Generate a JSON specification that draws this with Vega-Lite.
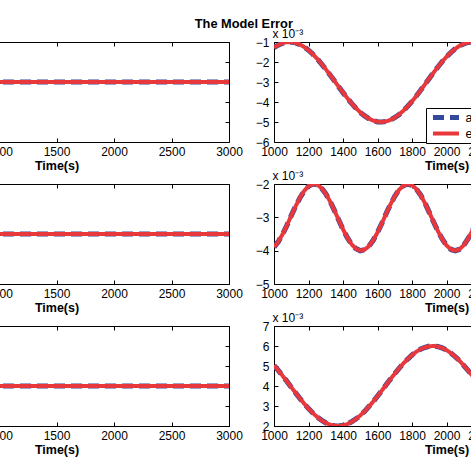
{
  "$schema": "https://vega.github.io/schema/vega-lite/v6.json",
  "background": "white",
  "padding": {"left": -146, "top": 17, "right": -162, "bottom": 14},
  "title": {"text": "The Model Error", "anchor": "middle", "font": "Liberation Sans", "fontSize": 12.8, "fontWeight": "bold", "color": "black", "offset": -4},
  "data": {"name": "errors"},
  "datasets": {
    "errors": [
      {"panel": "L1", "time": 0, "actual": 0, "estimated": 0},
      {"panel": "L1", "time": 3000, "actual": 0, "estimated": 0},
      {"panel": "L2", "time": 0, "actual": 0, "estimated": 0},
      {"panel": "L2", "time": 3000, "actual": 0, "estimated": 0},
      {"panel": "L3", "time": 0, "actual": 0, "estimated": 0},
      {"panel": "L3", "time": 3000, "actual": 0, "estimated": 0},
      {"panel": "R1", "time": 1000, "actual": -1.28, "estimated": -1.278},
      {"panel": "R1", "time": 1025, "actual": -1.15, "estimated": -1.147},
      {"panel": "R1", "time": 1050, "actual": -1.06, "estimated": -1.056},
      {"panel": "R1", "time": 1075, "actual": -1.01, "estimated": -1.008},
      {"panel": "R1", "time": 1100, "actual": -1.00, "estimated": -1.004},
      {"panel": "R1", "time": 1125, "actual": -1.04, "estimated": -1.043},
      {"panel": "R1", "time": 1150, "actual": -1.13, "estimated": -1.125},
      {"panel": "R1", "time": 1175, "actual": -1.25, "estimated": -1.249},
      {"panel": "R1", "time": 1200, "actual": -1.41, "estimated": -1.411},
      {"panel": "R1", "time": 1225, "actual": -1.61, "estimated": -1.607},
      {"panel": "R1", "time": 1250, "actual": -1.83, "estimated": -1.834},
      {"panel": "R1", "time": 1275, "actual": -2.09, "estimated": -2.087},
      {"panel": "R1", "time": 1300, "actual": -2.36, "estimated": -2.359},
      {"panel": "R1", "time": 1325, "actual": -2.65, "estimated": -2.646},
      {"panel": "R1", "time": 1350, "actual": -2.94, "estimated": -2.941},
      {"panel": "R1", "time": 1375, "actual": -3.24, "estimated": -3.236},
      {"panel": "R1", "time": 1400, "actual": -3.53, "estimated": -3.527},
      {"panel": "R1", "time": 1425, "actual": -3.81, "estimated": -3.806},
      {"panel": "R1", "time": 1450, "actual": -4.07, "estimated": -4.067},
      {"panel": "R1", "time": 1475, "actual": -4.31, "estimated": -4.305},
      {"panel": "R1", "time": 1500, "actual": -4.52, "estimated": -4.515},
      {"panel": "R1", "time": 1525, "actual": -4.69, "estimated": -4.691},
      {"panel": "R1", "time": 1550, "actual": -4.83, "estimated": -4.830},
      {"panel": "R1", "time": 1575, "actual": -4.93, "estimated": -4.929},
      {"panel": "R1", "time": 1600, "actual": -4.99, "estimated": -4.986},
      {"panel": "R1", "time": 1625, "actual": -5.00, "estimated": -4.999},
      {"panel": "R1", "time": 1650, "actual": -4.97, "estimated": -4.968},
      {"panel": "R1", "time": 1675, "actual": -4.90, "estimated": -4.895},
      {"panel": "R1", "time": 1700, "actual": -4.78, "estimated": -4.779},
      {"panel": "R1", "time": 1725, "actual": -4.63, "estimated": -4.625},
      {"panel": "R1", "time": 1750, "actual": -4.44, "estimated": -4.435},
      {"panel": "R1", "time": 1775, "actual": -4.21, "estimated": -4.213},
      {"panel": "R1", "time": 1800, "actual": -3.97, "estimated": -3.966},
      {"panel": "R1", "time": 1825, "actual": -3.70, "estimated": -3.697},
      {"panel": "R1", "time": 1850, "actual": -3.41, "estimated": -3.412},
      {"panel": "R1", "time": 1875, "actual": -3.12, "estimated": -3.119},
      {"panel": "R1", "time": 1900, "actual": -2.82, "estimated": -2.823},
      {"panel": "R1", "time": 1925, "actual": -2.53, "estimated": -2.530},
      {"panel": "R1", "time": 1950, "actual": -2.25, "estimated": -2.248},
      {"panel": "R1", "time": 1975, "actual": -1.98, "estimated": -1.983},
      {"panel": "R1", "time": 2000, "actual": -1.74, "estimated": -1.740},
      {"panel": "R1", "time": 2025, "actual": -1.53, "estimated": -1.525},
      {"panel": "R1", "time": 2050, "actual": -1.34, "estimated": -1.341},
      {"panel": "R1", "time": 2075, "actual": -1.19, "estimated": -1.194},
      {"panel": "R1", "time": 2100, "actual": -1.09, "estimated": -1.087},
      {"panel": "R1", "time": 2125, "actual": -1.02, "estimated": -1.022},
      {"panel": "R1", "time": 2150, "actual": -1.00, "estimated": -1.000},
      {"panel": "R1", "time": 2175, "actual": -1.02, "estimated": -1.022},
      {"panel": "R1", "time": 2200, "actual": -1.09, "estimated": -1.087},
      {"panel": "R1", "time": 2250, "actual": -1.34, "estimated": -1.341},
      {"panel": "R1", "time": 2300, "actual": -1.74, "estimated": -1.740},
      {"panel": "R1", "time": 2350, "actual": -2.25, "estimated": -2.248},
      {"panel": "R1", "time": 2400, "actual": -2.82, "estimated": -2.823},
      {"panel": "R1", "time": 2450, "actual": -3.41, "estimated": -3.412},
      {"panel": "R1", "time": 2500, "actual": -3.97, "estimated": -3.966},
      {"panel": "R1", "time": 2550, "actual": -4.44, "estimated": -4.435},
      {"panel": "R1", "time": 2600, "actual": -4.78, "estimated": -4.779},
      {"panel": "R1", "time": 2650, "actual": -4.97, "estimated": -4.968},
      {"panel": "R1", "time": 2700, "actual": -4.99, "estimated": -4.986},
      {"panel": "R1", "time": 2750, "actual": -4.83, "estimated": -4.830},
      {"panel": "R1", "time": 2800, "actual": -4.52, "estimated": -4.515},
      {"panel": "R1", "time": 2850, "actual": -4.07, "estimated": -4.067},
      {"panel": "R1", "time": 2900, "actual": -3.53, "estimated": -3.527},
      {"panel": "R1", "time": 2950, "actual": -2.94, "estimated": -2.941},
      {"panel": "R1", "time": 3000, "actual": -2.36, "estimated": -2.359},
      {"panel": "R2", "time": 1000, "actual": -3.89, "estimated": -3.893},
      {"panel": "R2", "time": 1025, "actual": -3.73, "estimated": -3.728},
      {"panel": "R2", "time": 1050, "actual": -3.50, "estimated": -3.503},
      {"panel": "R2", "time": 1075, "actual": -3.24, "estimated": -3.237},
      {"panel": "R2", "time": 1100, "actual": -2.95, "estimated": -2.951},
      {"panel": "R2", "time": 1125, "actual": -2.67, "estimated": -2.669},
      {"panel": "R2", "time": 1150, "actual": -2.42, "estimated": -2.415},
      {"panel": "R2", "time": 1175, "actual": -2.21, "estimated": -2.208},
      {"panel": "R2", "time": 1200, "actual": -2.07, "estimated": -2.067},
      {"panel": "R2", "time": 1225, "actual": -2.00, "estimated": -2.003},
      {"panel": "R2", "time": 1250, "actual": -2.02, "estimated": -2.021},
      {"panel": "R2", "time": 1275, "actual": -2.12, "estimated": -2.120},
      {"panel": "R2", "time": 1300, "actual": -2.29, "estimated": -2.292},
      {"panel": "R2", "time": 1325, "actual": -2.52, "estimated": -2.522},
      {"panel": "R2", "time": 1350, "actual": -2.79, "estimated": -2.791},
      {"panel": "R2", "time": 1375, "actual": -3.08, "estimated": -3.078},
      {"panel": "R2", "time": 1400, "actual": -3.36, "estimated": -3.358},
      {"panel": "R2", "time": 1425, "actual": -3.61, "estimated": -3.609},
      {"panel": "R2", "time": 1450, "actual": -3.81, "estimated": -3.809},
      {"panel": "R2", "time": 1475, "actual": -3.94, "estimated": -3.943},
      {"panel": "R2", "time": 1500, "actual": -4.00, "estimated": -3.999},
      {"panel": "R2", "time": 1525, "actual": -3.97, "estimated": -3.972},
      {"panel": "R2", "time": 1550, "actual": -3.87, "estimated": -3.866},
      {"panel": "R2", "time": 1575, "actual": -3.69, "estimated": -3.688},
      {"panel": "R2", "time": 1600, "actual": -3.45, "estimated": -3.453},
      {"panel": "R2", "time": 1625, "actual": -3.18, "estimated": -3.181},
      {"panel": "R2", "time": 1650, "actual": -2.89, "estimated": -2.894},
      {"panel": "R2", "time": 1675, "actual": -2.62, "estimated": -2.615},
      {"panel": "R2", "time": 1700, "actual": -2.37, "estimated": -2.369},
      {"panel": "R2", "time": 1725, "actual": -2.17, "estimated": -2.174},
      {"panel": "R2", "time": 1750, "actual": -2.05, "estimated": -2.048},
      {"panel": "R2", "time": 1775, "actual": -2.00, "estimated": -2.000},
      {"panel": "R2", "time": 1800, "actual": -2.04, "estimated": -2.035},
      {"panel": "R2", "time": 1825, "actual": -2.15, "estimated": -2.149},
      {"panel": "R2", "time": 1850, "actual": -2.33, "estimated": -2.334},
      {"panel": "R2", "time": 1875, "actual": -2.57, "estimated": -2.573},
      {"panel": "R2", "time": 1900, "actual": -2.85, "estimated": -2.848},
      {"panel": "R2", "time": 1925, "actual": -3.14, "estimated": -3.135},
      {"panel": "R2", "time": 1950, "actual": -3.41, "estimated": -3.411},
      {"panel": "R2", "time": 1975, "actual": -3.65, "estimated": -3.653},
      {"panel": "R2", "time": 2000, "actual": -3.84, "estimated": -3.842},
      {"panel": "R2", "time": 2025, "actual": -3.96, "estimated": -3.960},
      {"panel": "R2", "time": 2050, "actual": -4.00, "estimated": -4.000},
      {"panel": "R2", "time": 2075, "actual": -3.96, "estimated": -3.957},
      {"panel": "R2", "time": 2100, "actual": -3.84, "estimated": -3.835},
      {"panel": "R2", "time": 2125, "actual": -3.64, "estimated": -3.644},
      {"panel": "R2", "time": 2150, "actual": -3.40, "estimated": -3.401},
      {"panel": "R2", "time": 2175, "actual": -3.12, "estimated": -3.124},
      {"panel": "R2", "time": 2200, "actual": -2.84, "estimated": -2.837},
      {"panel": "R2", "time": 2250, "actual": -2.33, "estimated": -2.325},
      {"panel": "R2", "time": 2300, "actual": -2.03, "estimated": -2.032},
      {"panel": "R2", "time": 2350, "actual": -2.05, "estimated": -2.052},
      {"panel": "R2", "time": 2400, "actual": -2.38, "estimated": -2.378},
      {"panel": "R2", "time": 2450, "actual": -2.91, "estimated": -2.905},
      {"panel": "R2", "time": 2500, "actual": -3.46, "estimated": -3.463},
      {"panel": "R2", "time": 2550, "actual": -3.87, "estimated": -3.871},
      {"panel": "R2", "time": 2600, "actual": -4.00, "estimated": -3.998},
      {"panel": "R2", "time": 2650, "actual": -3.80, "estimated": -3.802},
      {"panel": "R2", "time": 2700, "actual": -3.35, "estimated": -3.347},
      {"panel": "R2", "time": 2750, "actual": -2.78, "estimated": -2.780},
      {"panel": "R2", "time": 2800, "actual": -2.28, "estimated": -2.284},
      {"panel": "R2", "time": 2850, "actual": -2.02, "estimated": -2.019},
      {"panel": "R2", "time": 2900, "actual": -2.07, "estimated": -2.072},
      {"panel": "R2", "time": 2950, "actual": -2.42, "estimated": -2.423},
      {"panel": "R2", "time": 3000, "actual": -2.96, "estimated": -2.963},
      {"panel": "R3", "time": 1000, "actual": 5.03, "estimated": 5.033},
      {"panel": "R3", "time": 1025, "actual": 4.78, "estimated": 4.779},
      {"panel": "R3", "time": 1050, "actual": 4.51, "estimated": 4.509},
      {"panel": "R3", "time": 1075, "actual": 4.23, "estimated": 4.228},
      {"panel": "R3", "time": 1100, "actual": 3.94, "estimated": 3.943},
      {"panel": "R3", "time": 1125, "actual": 3.66, "estimated": 3.659},
      {"panel": "R3", "time": 1150, "actual": 3.38, "estimated": 3.382},
      {"panel": "R3", "time": 1175, "actual": 3.12, "estimated": 3.118},
      {"panel": "R3", "time": 1200, "actual": 2.87, "estimated": 2.871},
      {"panel": "R3", "time": 1225, "actual": 2.65, "estimated": 2.647},
      {"panel": "R3", "time": 1250, "actual": 2.45, "estimated": 2.452},
      {"panel": "R3", "time": 1275, "actual": 2.29, "estimated": 2.287},
      {"panel": "R3", "time": 1300, "actual": 2.16, "estimated": 2.158},
      {"panel": "R3", "time": 1325, "actual": 2.07, "estimated": 2.066},
      {"panel": "R3", "time": 1350, "actual": 2.01, "estimated": 2.013},
      {"panel": "R3", "time": 1375, "actual": 2.00, "estimated": 2.001},
      {"panel": "R3", "time": 1400, "actual": 2.03, "estimated": 2.029},
      {"panel": "R3", "time": 1425, "actual": 2.10, "estimated": 2.098},
      {"panel": "R3", "time": 1450, "actual": 2.21, "estimated": 2.205},
      {"panel": "R3", "time": 1475, "actual": 2.35, "estimated": 2.349},
      {"panel": "R3", "time": 1500, "actual": 2.53, "estimated": 2.527},
      {"panel": "R3", "time": 1525, "actual": 2.73, "estimated": 2.734},
      {"panel": "R3", "time": 1550, "actual": 2.97, "estimated": 2.967},
      {"panel": "R3", "time": 1575, "actual": 3.22, "estimated": 3.221},
      {"panel": "R3", "time": 1600, "actual": 3.49, "estimated": 3.491},
      {"panel": "R3", "time": 1625, "actual": 3.77, "estimated": 3.772},
      {"panel": "R3", "time": 1650, "actual": 4.06, "estimated": 4.057},
      {"panel": "R3", "time": 1675, "actual": 4.34, "estimated": 4.341},
      {"panel": "R3", "time": 1700, "actual": 4.62, "estimated": 4.618},
      {"panel": "R3", "time": 1725, "actual": 4.88, "estimated": 4.882},
      {"panel": "R3", "time": 1750, "actual": 5.13, "estimated": 5.129},
      {"panel": "R3", "time": 1775, "actual": 5.35, "estimated": 5.353},
      {"panel": "R3", "time": 1800, "actual": 5.55, "estimated": 5.548},
      {"panel": "R3", "time": 1825, "actual": 5.71, "estimated": 5.713},
      {"panel": "R3", "time": 1850, "actual": 5.84, "estimated": 5.842},
      {"panel": "R3", "time": 1875, "actual": 5.93, "estimated": 5.934},
      {"panel": "R3", "time": 1900, "actual": 5.99, "estimated": 5.987},
      {"panel": "R3", "time": 1925, "actual": 6.00, "estimated": 5.999},
      {"panel": "R3", "time": 1950, "actual": 5.97, "estimated": 5.971},
      {"panel": "R3", "time": 1975, "actual": 5.90, "estimated": 5.902},
      {"panel": "R3", "time": 2000, "actual": 5.80, "estimated": 5.795},
      {"panel": "R3", "time": 2025, "actual": 5.65, "estimated": 5.651},
      {"panel": "R3", "time": 2050, "actual": 5.47, "estimated": 5.473},
      {"panel": "R3", "time": 2075, "actual": 5.27, "estimated": 5.266},
      {"panel": "R3", "time": 2100, "actual": 5.03, "estimated": 5.033},
      {"panel": "R3", "time": 2125, "actual": 4.78, "estimated": 4.779},
      {"panel": "R3", "time": 2150, "actual": 4.51, "estimated": 4.509},
      {"panel": "R3", "time": 2175, "actual": 4.23, "estimated": 4.228},
      {"panel": "R3", "time": 2200, "actual": 3.94, "estimated": 3.943},
      {"panel": "R3", "time": 2250, "actual": 3.38, "estimated": 3.382},
      {"panel": "R3", "time": 2300, "actual": 2.87, "estimated": 2.871},
      {"panel": "R3", "time": 2350, "actual": 2.45, "estimated": 2.452},
      {"panel": "R3", "time": 2400, "actual": 2.16, "estimated": 2.158},
      {"panel": "R3", "time": 2450, "actual": 2.01, "estimated": 2.013},
      {"panel": "R3", "time": 2500, "actual": 2.03, "estimated": 2.029},
      {"panel": "R3", "time": 2550, "actual": 2.21, "estimated": 2.205},
      {"panel": "R3", "time": 2600, "actual": 2.53, "estimated": 2.527},
      {"panel": "R3", "time": 2650, "actual": 2.97, "estimated": 2.967},
      {"panel": "R3", "time": 2700, "actual": 3.49, "estimated": 3.491},
      {"panel": "R3", "time": 2750, "actual": 4.06, "estimated": 4.057},
      {"panel": "R3", "time": 2800, "actual": 4.62, "estimated": 4.618},
      {"panel": "R3", "time": 2850, "actual": 5.13, "estimated": 5.129},
      {"panel": "R3", "time": 2900, "actual": 5.55, "estimated": 5.548},
      {"panel": "R3", "time": 2950, "actual": 5.84, "estimated": 5.842},
      {"panel": "R3", "time": 3000, "actual": 5.99, "estimated": 5.987}
    ]
  },
  "columns": 2,
  "spacing": {"row": 42, "column": 45},
  "bounds": "flush",
  "resolve": {
    "scale": {"x": "independent", "y": "independent", "color": "independent", "strokeDash": "independent", "strokeWidth": "independent"},
    "legend": {"color": "independent", "strokeDash": "independent", "strokeWidth": "independent"}
  },
  "concat": [
    {
      "width": 345, "height": 100,
      "transform": [{"filter": "datum.panel === 'L1'"}],
      "layer": [
        {
          "mark": {"type": "line", "clip": true},
          "encoding": {
            "x": {"field": "time", "type": "quantitative", "scale": {"domain": [0, 3000], "nice": false, "zero": false}, "axis": {"orient": "bottom", "values": [0, 500, 1000, 1500, 2000, 2500, 3000], "title": "Time(s)"}},
            "y": {"field": "actual", "type": "quantitative", "scale": {"domain": [-3, 2], "nice": false, "zero": false}, "axis": {"orient": "left", "values": [-3, -2, -1, 0, 1, 2], "title": null}},
            "color": {"datum": "actual", "type": "nominal", "scale": {"domain": ["actual", "estimated"], "range": ["#34489C", "#E8383B"]}, "legend": null},
            "strokeDash": {"datum": "actual", "type": "nominal", "scale": {"domain": ["actual", "estimated"], "range": [[11, 6], [1, 0]]}, "legend": null},
            "strokeWidth": {"datum": "actual", "type": "nominal", "scale": {"domain": ["actual", "estimated"], "range": [5.2, 4]}, "legend": null}
          }
        },
        {
          "mark": {"type": "line", "clip": true},
          "encoding": {
            "x": {"field": "time", "type": "quantitative", "axis": null},
            "y": {"field": "estimated", "type": "quantitative", "axis": null},
            "color": {"datum": "estimated", "type": "nominal", "legend": null},
            "strokeDash": {"datum": "estimated", "type": "nominal", "legend": null},
            "strokeWidth": {"datum": "estimated", "type": "nominal", "legend": null}
          }
        },
        {
          "mark": {"type": "line", "opacity": 0},
          "encoding": {
            "x": {"field": "time", "type": "quantitative", "axis": {"orient": "top", "values": [0, 500, 1000, 1500, 2000, 2500, 3000], "labels": false, "title": null}},
            "y": {"field": "estimated", "type": "quantitative", "axis": {"orient": "right", "values": [-3, -2, -1, 0, 1, 2], "labels": false, "title": null}}
          }
        }
      ],
      "resolve": {"axis": {"x": "independent", "y": "independent"}}
    },
    {
      "width": 345, "height": 100,
      "transform": [{"filter": "datum.panel === 'R1'"}],
      "layer": [
        {
          "mark": {"type": "line", "clip": true},
          "encoding": {
            "x": {"field": "time", "type": "quantitative", "scale": {"domain": [1000, 3000], "nice": false, "zero": false}, "axis": {"orient": "bottom", "values": [1000, 1200, 1400, 1600, 1800, 2000, 2200, 2400, 2600, 2800, 3000], "title": "Time(s)"}},
            "y": {"field": "actual", "type": "quantitative", "scale": {"domain": [-6, -1], "nice": false, "zero": false}, "axis": {"orient": "left", "values": [-6, -5, -4, -3, -2, -1], "title": "x 10⁻³", "titleAngle": 0, "titleAlign": "left", "titleBaseline": "alphabetic", "titleX": -2, "titleY": -5, "titleFontWeight": "normal", "titleFontSize": 12}},
            "color": {"datum": "actual", "type": "nominal", "scale": {"domain": ["actual", "estimated"], "range": ["#34489C", "#E8383B"]},
              "legend": {"orient": "none", "legendX": 152, "legendY": 66, "title": null, "symbolType": "M-2,0L2,0", "symbolSize": 169, "symbolStrokeWidth": 4, "symbolOffset": 7.5, "labelOffset": 10, "padding": 3, "rowPadding": 3, "clipHeight": 13}},
            "strokeDash": {"datum": "actual", "type": "nominal", "scale": {"domain": ["actual", "estimated"], "range": [[11, 6], [1, 0]]},
              "legend": {"orient": "none", "legendX": 152, "legendY": 66, "title": null, "symbolType": "M-2,0L2,0", "symbolSize": 169, "symbolStrokeWidth": 4, "symbolOffset": 7.5, "labelOffset": 10, "padding": 3, "rowPadding": 3, "clipHeight": 13}},
            "strokeWidth": {"datum": "actual", "type": "nominal", "scale": {"domain": ["actual", "estimated"], "range": [5.2, 4]}, "legend": null}
          }
        },
        {
          "mark": {"type": "line", "clip": true},
          "encoding": {
            "x": {"field": "time", "type": "quantitative", "axis": null},
            "y": {"field": "estimated", "type": "quantitative", "axis": null},
            "color": {"datum": "estimated", "type": "nominal"},
            "strokeDash": {"datum": "estimated", "type": "nominal"},
            "strokeWidth": {"datum": "estimated", "type": "nominal", "legend": null}
          }
        },
        {
          "mark": {"type": "line", "opacity": 0},
          "encoding": {
            "x": {"field": "time", "type": "quantitative", "axis": {"orient": "top", "values": [1000, 1200, 1400, 1600, 1800, 2000, 2200, 2400, 2600, 2800, 3000], "labels": false, "title": null}},
            "y": {"field": "estimated", "type": "quantitative", "axis": {"orient": "right", "values": [-6, -5, -4, -3, -2, -1], "labels": false, "title": null}}
          }
        }
      ],
      "resolve": {"axis": {"x": "independent", "y": "independent"}}
    },
    {
      "width": 345, "height": 100,
      "transform": [{"filter": "datum.panel === 'L2'"}],
      "layer": [
        {
          "mark": {"type": "line", "clip": true},
          "encoding": {
            "x": {"field": "time", "type": "quantitative", "scale": {"domain": [0, 3000], "nice": false, "zero": false}, "axis": {"orient": "bottom", "values": [0, 500, 1000, 1500, 2000, 2500, 3000], "title": "Time(s)"}},
            "y": {"field": "actual", "type": "quantitative", "scale": {"domain": [-1, 1], "nice": false, "zero": false}, "axis": {"orient": "left", "values": [-1, -0.5, 0, 0.5, 1], "format": ".1f", "title": null}},
            "color": {"datum": "actual", "type": "nominal", "scale": {"domain": ["actual", "estimated"], "range": ["#34489C", "#E8383B"]}, "legend": null},
            "strokeDash": {"datum": "actual", "type": "nominal", "scale": {"domain": ["actual", "estimated"], "range": [[11, 6], [1, 0]]}, "legend": null},
            "strokeWidth": {"datum": "actual", "type": "nominal", "scale": {"domain": ["actual", "estimated"], "range": [5.2, 4]}, "legend": null}
          }
        },
        {
          "mark": {"type": "line", "clip": true},
          "encoding": {
            "x": {"field": "time", "type": "quantitative", "axis": null},
            "y": {"field": "estimated", "type": "quantitative", "axis": null},
            "color": {"datum": "estimated", "type": "nominal", "legend": null},
            "strokeDash": {"datum": "estimated", "type": "nominal", "legend": null},
            "strokeWidth": {"datum": "estimated", "type": "nominal", "legend": null}
          }
        },
        {
          "mark": {"type": "line", "opacity": 0},
          "encoding": {
            "x": {"field": "time", "type": "quantitative", "axis": {"orient": "top", "values": [0, 500, 1000, 1500, 2000, 2500, 3000], "labels": false, "title": null}},
            "y": {"field": "estimated", "type": "quantitative", "axis": {"orient": "right", "values": [-1, -0.5, 0, 0.5, 1], "labels": false, "title": null}}
          }
        }
      ],
      "resolve": {"axis": {"x": "independent", "y": "independent"}}
    },
    {
      "width": 345, "height": 100,
      "transform": [{"filter": "datum.panel === 'R2'"}],
      "layer": [
        {
          "mark": {"type": "line", "clip": true},
          "encoding": {
            "x": {"field": "time", "type": "quantitative", "scale": {"domain": [1000, 3000], "nice": false, "zero": false}, "axis": {"orient": "bottom", "values": [1000, 1200, 1400, 1600, 1800, 2000, 2200, 2400, 2600, 2800, 3000], "title": "Time(s)"}},
            "y": {"field": "actual", "type": "quantitative", "scale": {"domain": [-5, -2], "nice": false, "zero": false}, "axis": {"orient": "left", "values": [-5, -4, -3, -2], "title": "x 10⁻³", "titleAngle": 0, "titleAlign": "left", "titleBaseline": "alphabetic", "titleX": -2, "titleY": -5, "titleFontWeight": "normal", "titleFontSize": 12}},
            "color": {"datum": "actual", "type": "nominal", "scale": {"domain": ["actual", "estimated"], "range": ["#34489C", "#E8383B"]}, "legend": null},
            "strokeDash": {"datum": "actual", "type": "nominal", "scale": {"domain": ["actual", "estimated"], "range": [[11, 6], [1, 0]]}, "legend": null},
            "strokeWidth": {"datum": "actual", "type": "nominal", "scale": {"domain": ["actual", "estimated"], "range": [5.2, 4]}, "legend": null}
          }
        },
        {
          "mark": {"type": "line", "clip": true},
          "encoding": {
            "x": {"field": "time", "type": "quantitative", "axis": null},
            "y": {"field": "estimated", "type": "quantitative", "axis": null},
            "color": {"datum": "estimated", "type": "nominal", "legend": null},
            "strokeDash": {"datum": "estimated", "type": "nominal", "legend": null},
            "strokeWidth": {"datum": "estimated", "type": "nominal", "legend": null}
          }
        },
        {
          "mark": {"type": "line", "opacity": 0},
          "encoding": {
            "x": {"field": "time", "type": "quantitative", "axis": {"orient": "top", "values": [1000, 1200, 1400, 1600, 1800, 2000, 2200, 2400, 2600, 2800, 3000], "labels": false, "title": null}},
            "y": {"field": "estimated", "type": "quantitative", "axis": {"orient": "right", "values": [-5, -4, -3, -2], "labels": false, "title": null}}
          }
        }
      ],
      "resolve": {"axis": {"x": "independent", "y": "independent"}}
    },
    {
      "width": 345, "height": 100,
      "transform": [{"filter": "datum.panel === 'L3'"}],
      "layer": [
        {
          "mark": {"type": "line", "clip": true},
          "encoding": {
            "x": {"field": "time", "type": "quantitative", "scale": {"domain": [0, 3000], "nice": false, "zero": false}, "axis": {"orient": "bottom", "values": [0, 500, 1000, 1500, 2000, 2500, 3000], "title": "Time(s)"}},
            "y": {"field": "actual", "type": "quantitative", "scale": {"domain": [-2, 3], "nice": false, "zero": false}, "axis": {"orient": "left", "values": [-2, -1, 0, 1, 2, 3], "title": null}},
            "color": {"datum": "actual", "type": "nominal", "scale": {"domain": ["actual", "estimated"], "range": ["#34489C", "#E8383B"]}, "legend": null},
            "strokeDash": {"datum": "actual", "type": "nominal", "scale": {"domain": ["actual", "estimated"], "range": [[11, 6], [1, 0]]}, "legend": null},
            "strokeWidth": {"datum": "actual", "type": "nominal", "scale": {"domain": ["actual", "estimated"], "range": [5.2, 4]}, "legend": null}
          }
        },
        {
          "mark": {"type": "line", "clip": true},
          "encoding": {
            "x": {"field": "time", "type": "quantitative", "axis": null},
            "y": {"field": "estimated", "type": "quantitative", "axis": null},
            "color": {"datum": "estimated", "type": "nominal", "legend": null},
            "strokeDash": {"datum": "estimated", "type": "nominal", "legend": null},
            "strokeWidth": {"datum": "estimated", "type": "nominal", "legend": null}
          }
        },
        {
          "mark": {"type": "line", "opacity": 0},
          "encoding": {
            "x": {"field": "time", "type": "quantitative", "axis": {"orient": "top", "values": [0, 500, 1000, 1500, 2000, 2500, 3000], "labels": false, "title": null}},
            "y": {"field": "estimated", "type": "quantitative", "axis": {"orient": "right", "values": [-2, -1, 0, 1, 2, 3], "labels": false, "title": null}}
          }
        }
      ],
      "resolve": {"axis": {"x": "independent", "y": "independent"}}
    },
    {
      "width": 345, "height": 100,
      "transform": [{"filter": "datum.panel === 'R3'"}],
      "layer": [
        {
          "mark": {"type": "line", "clip": true},
          "encoding": {
            "x": {"field": "time", "type": "quantitative", "scale": {"domain": [1000, 3000], "nice": false, "zero": false}, "axis": {"orient": "bottom", "values": [1000, 1200, 1400, 1600, 1800, 2000, 2200, 2400, 2600, 2800, 3000], "title": "Time(s)"}},
            "y": {"field": "actual", "type": "quantitative", "scale": {"domain": [2, 7], "nice": false, "zero": false}, "axis": {"orient": "left", "values": [2, 3, 4, 5, 6, 7], "title": "x 10⁻³", "titleAngle": 0, "titleAlign": "left", "titleBaseline": "alphabetic", "titleX": -2, "titleY": -5, "titleFontWeight": "normal", "titleFontSize": 12}},
            "color": {"datum": "actual", "type": "nominal", "scale": {"domain": ["actual", "estimated"], "range": ["#34489C", "#E8383B"]}, "legend": null},
            "strokeDash": {"datum": "actual", "type": "nominal", "scale": {"domain": ["actual", "estimated"], "range": [[11, 6], [1, 0]]}, "legend": null},
            "strokeWidth": {"datum": "actual", "type": "nominal", "scale": {"domain": ["actual", "estimated"], "range": [5.2, 4]}, "legend": null}
          }
        },
        {
          "mark": {"type": "line", "clip": true},
          "encoding": {
            "x": {"field": "time", "type": "quantitative", "axis": null},
            "y": {"field": "estimated", "type": "quantitative", "axis": null},
            "color": {"datum": "estimated", "type": "nominal", "legend": null},
            "strokeDash": {"datum": "estimated", "type": "nominal", "legend": null},
            "strokeWidth": {"datum": "estimated", "type": "nominal", "legend": null}
          }
        },
        {
          "mark": {"type": "line", "opacity": 0},
          "encoding": {
            "x": {"field": "time", "type": "quantitative", "axis": {"orient": "top", "values": [1000, 1200, 1400, 1600, 1800, 2000, 2200, 2400, 2600, 2800, 3000], "labels": false, "title": null}},
            "y": {"field": "estimated", "type": "quantitative", "axis": {"orient": "right", "values": [2, 3, 4, 5, 6, 7], "labels": false, "title": null}}
          }
        }
      ],
      "resolve": {"axis": {"x": "independent", "y": "independent"}}
    }
  ],
  "config": {
    "font": "Liberation Sans",
    "numberFormat": "d",
    "view": {"stroke": "black", "strokeWidth": 1},
    "axis": {
      "domain": false, "grid": false,
      "tickSize": -4, "tickColor": "black", "tickWidth": 1,
      "labelFont": "Liberation Sans", "labelFontSize": 12, "labelColor": "black",
      "labelFlush": false, "labelOverlap": false, "labelBound": false,
      "titleFont": "Liberation Sans", "titleFontSize": 12.5, "titleFontWeight": "bold", "titleColor": "black", "titlePadding": 2
    },
    "axisX": {"labelPadding": 8},
    "axisY": {"labelPadding": 9},
    "legend": {
      "labelFont": "Liberation Sans", "labelFontSize": 12.5, "labelColor": "black",
      "strokeColor": "black", "fillColor": "white", "cornerRadius": 0
    }
  }
}
